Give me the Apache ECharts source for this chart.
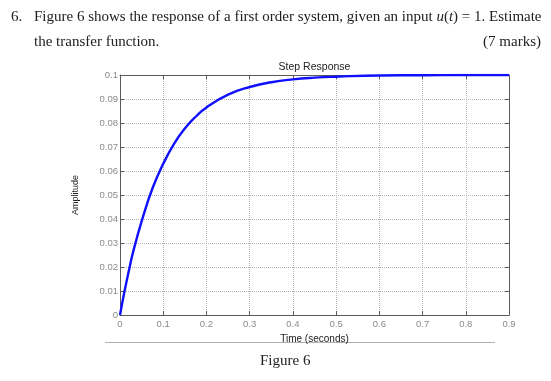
<!DOCTYPE html>
<html><head><meta charset="utf-8">
<script src="https://cdn.jsdelivr.net/npm/echarts@6/dist/echarts.min.js"></script>
<style>html,body{margin:0;padding:0;background:#fff}#c{width:551px;height:381px}</style>
</head><body><div id="c"></div>
<script>
// Data
const timeValues = [0, 0.01, 0.02, 0.03, 0.05, 0.075, 0.1, 0.125, 0.15, 0.175, 0.2, 0.25, 0.3, 0.35, 0.4, 0.45, 0.5, 0.6, 0.7, 0.8, 0.9];
const amplitudeValues = [0, 0.0095, 0.018, 0.026, 0.039, 0.0527, 0.063, 0.0713, 0.0777, 0.0826, 0.0865, 0.0918, 0.095, 0.097, 0.0982, 0.0989, 0.0993, 0.0998, 0.0999, 0.1, 0.1];
const xTickLabels = ['0','0.1','0.2','0.3','0.4','0.5','0.6','0.7','0.8','0.9'];
const yTickLabels = ['0','0.01','0.02','0.03','0.04','0.05','0.06','0.07','0.08','0.09','0.1'];

const chart = echarts.init(document.getElementById('c'), null, {renderer: 'canvas'});
const points = timeValues.map((t, i) => [t, amplitudeValues[i]]);
const gridStyle = {show: true, lineStyle: {color: '#b4b4b4', type: [1, 1], width: 1}};
const axisLine = {show: true, onZero: false, lineStyle: {color: '#5a5a5a', width: 1}};
const tickIn = {show: true, inside: true, length: 4, lineStyle: {color: '#5a5a5a'}};
const labelStyle = {color: '#8a8a8a', fontFamily: 'Liberation Sans', fontSize: 9.5};

chart.setOption({
  animation: false,
  grid: {left: 120, right: 42, top: 75, bottom: 66, containLabel: false},
  xAxis: [{
    type: 'value', min: 0, max: 0.9, interval: 0.1, position: 'bottom',
    axisLine, axisTick: tickIn, splitLine: gridStyle,
    axisLabel: Object.assign({}, labelStyle, {margin: 4, formatter: (v) => xTickLabels[Math.round(v * 10)]}),
    name: 'Time (seconds)', nameLocation: 'middle', nameGap: 17,
    nameTextStyle: {color: '#222', fontFamily: 'Liberation Sans', fontSize: 10}
  }, {
    type: 'value', min: 0, max: 0.9, interval: 0.1, position: 'top',
    axisLine, axisTick: tickIn, splitLine: {show: false}, axisLabel: {show: false},
    name: 'Step Response', nameLocation: 'middle', nameGap: 2,
    nameTextStyle: {color: '#222', fontFamily: 'Liberation Sans', fontSize: 10.5, verticalAlign: 'bottom'}
  }],
  yAxis: [{
    type: 'value', min: 0, max: 0.1, interval: 0.01, position: 'left',
    axisLine, axisTick: tickIn, splitLine: gridStyle,
    axisLabel: Object.assign({}, labelStyle, {margin: 2, formatter: (v) => yTickLabels[Math.round(v * 100)]}),
    name: 'Amplitude', nameLocation: 'middle', nameGap: 40, nameRotate: 90,
    nameTextStyle: {color: '#222', fontFamily: 'Liberation Sans', fontSize: 9}
  }, {
    type: 'value', min: 0, max: 0.1, interval: 0.01, position: 'right',
    axisLine, axisTick: tickIn, splitLine: {show: false}, axisLabel: {show: false}
  }],
  series: [{
    type: 'line', data: points, smooth: true, showSymbol: false,
    xAxisIndex: 0, yAxisIndex: 0,
    lineStyle: {color: '#1010ff', width: 2.4}
  }],
  graphic: [
    {type: 'text', left: 11, top: 10, style: {text: '6.', font: '15px "Liberation Serif"', fill: '#222'}},
    {type: 'text', left: 34, top: 10, style: {
      text: 'Figure 6 shows the response of a first order system, given an input {i|u}({i|t}) = 1. Estimate',
      font: '15px "Liberation Serif"', fill: '#222',
      rich: {i: {fontFamily: 'Liberation Serif', fontStyle: 'italic', fontSize: 15, fill: '#222'}}
    }},
    {type: 'text', left: 34, top: 35, style: {text: 'the transfer function.', font: '15px "Liberation Serif"', fill: '#222'}},
    {type: 'text', right: 10, top: 35, style: {text: '(7 marks)', font: '15px "Liberation Serif"', fill: '#222'}},
    {type: 'line', shape: {x1: 105, y1: 342.5, x2: 495, y2: 342.5}, style: {stroke: '#b0b0b0', lineWidth: 1}},
    {type: 'text', left: 260, top: 354, style: {text: 'Figure 6', font: '15px "Liberation Serif"', fill: '#222'}}
  ]
});
</script></body></html>
